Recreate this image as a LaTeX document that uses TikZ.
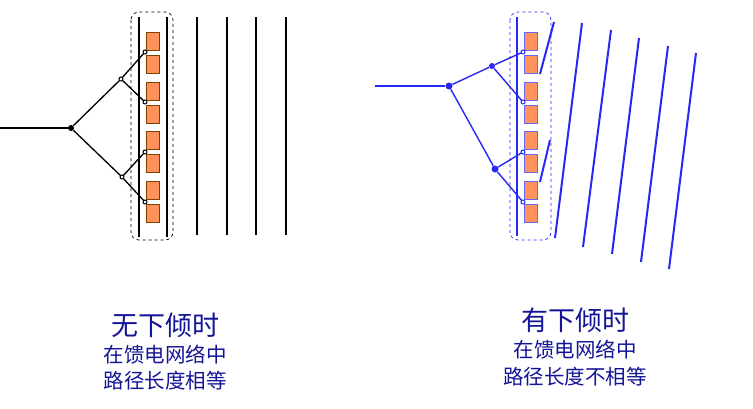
\documentclass[tikz,border=0pt]{standalone}
\usepackage{fontspec}
\newfontfamily\cjk{Noto Sans CJK SC}
\definecolor{bl}{RGB}{40,40,245}
\definecolor{tx}{RGB}{20,20,150}
\definecolor{org}{RGB}{255,145,90}
\begin{document}
\begin{tikzpicture}[x=1pt,y=-1pt,
 elem/.style={draw=#1,fill=org,line width=0.6pt,minimum width=13pt,minimum height=18pt,inner sep=0},
 jn/.style={circle,draw,fill=white,inner sep=0,minimum size=4pt,line width=1pt},
 jf/.style={circle,fill,inner sep=0,minimum size=7pt},
 t1/.style={font=\cjk\fontsize{27}{30}\selectfont,text=tx},
 t2/.style={font=\cjk\fontsize{20.5}{23}\selectfont,text=tx}]
\useasboundingbox (0,0) rectangle (753,408);
% left panel
\draw[dashed,rounded corners=8pt,line width=0.7pt] (131,12) rectangle (173,240);
\draw[line width=2.2pt] (139,17)--(139,237);
\draw[line width=2pt] (167,17)--(167,237);
\foreach \x in {197,227,256,286} \draw[line width=2pt] (\x,17)--(\x,235);
\foreach \y [count=\i] in {41,64,91,114,140,163,190,213} \node[elem=orange!50!black] (L\i) at (152.5,\y) {};
\coordinate (lin) at (0,128);
\node[jf,minimum size=6pt] (L0) at (71,128) {};
\node[jn] (La) at (121,79) {};
\node[jn] (Lb) at (122,177) {};
\node[jn] (L1a) at (145,52) {};
\node[jn] (L2a) at (145,102) {};
\node[jn] (L3a) at (145,152) {};
\node[jn] (L4a) at (145,202) {};
\draw[line width=2pt] (lin)--(L0);
\draw[line width=1.3pt] (L0)--(La) (L0)--(Lb) (La)--(L1a) (La)--(L2a) (Lb)--(L3a) (Lb)--(L4a);
% right panel
\begin{scope}[bl,draw=bl]
\draw[dashed,rounded corners=8pt,line width=0.7pt] (510,12) rectangle (551,240);
\draw[line width=2.4pt] (517,17)--(517,236);
\foreach \y [count=\i] in {41,64,91,114,140,163,190,213} \node[elem=bl!70!white] (R\i) at (531,\y) {};
\coordinate (rin) at (375,86);
\node[jf] (R0) at (449,86) {};
\node[jf,minimum size=6pt] (Ra) at (492,66) {};
\node[jf] (Rb) at (495,169) {};
\node[jn,draw=bl] (R1a) at (523,52) {};
\node[jn,draw=bl] (R2a) at (523,102) {};
\node[jn,draw=bl] (R3a) at (523,152) {};
\node[jn,draw=bl] (R4a) at (523,202) {};
\draw[line width=2.2pt] (rin)--(R0);
\draw[line width=1.4pt] (R0)--(Ra) (R0)--(Rb) (Ra)--(R1a) (Ra)--(R2a) (Rb)--(R3a) (Rb)--(R4a);
\draw[line width=2pt] (554,22)--(540,74) (550,140)--(540,182)
 (582,23)--(555,238) (611,30)--(583,247) (639,38)--(612,254) (668,46)--(641,262) (696,53)--(669,269);
\end{scope}
% text
\node[t1] (tl1) at (165,325) {无下倾时};
\node[t2] (tl2) at (165,355) {在馈电网络中};
\node[t2] (tl3) at (165,381) {路径长度相等};
\node[t1] (tr1) at (575,320) {有下倾时};
\node[t2] (tr2) at (575,350) {在馈电网络中};
\node[t2] (tr3) at (575,377) {路径长度不相等};
\end{tikzpicture}
\end{document}
